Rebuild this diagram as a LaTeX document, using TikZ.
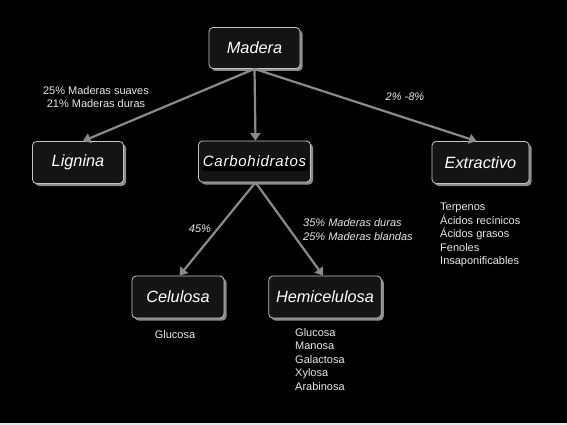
\documentclass[tikz,border=0pt]{standalone}
\usepackage{fontspec}
\setmainfont{Liberation Sans}
\usetikzlibrary{arrows.meta,shadows,calc}
\definecolor{boxfill}{HTML}{141414}
\definecolor{boxborder}{HTML}{C4C4C4}
\definecolor{shadowgray}{HTML}{8C8C8C}
\definecolor{arrowgray}{HTML}{8A8A8A}
\definecolor{labeltext}{HTML}{E8E8E8}
\tikzset{
  box/.style={draw=boxborder, fill=boxfill, rounded corners=4pt, line width=0.8pt,
    minimum height=41pt, inner sep=0pt, text=white,
    font=\fontsize{16.3}{19}\selectfont\itshape,
    drop shadow={shadow xshift=2.5pt, shadow yshift=-2.5pt, fill=shadowgray, opacity=1, rounded corners=4pt}},
  arr/.style={draw=arrowgray, line width=2.2pt, -{Triangle[length=7.5pt,width=10pt]}},
  lbl/.style={text=labeltext, inner sep=0pt, font=\fontsize{11}{13.5}\selectfont},
  ilbl/.style={lbl, font=\fontsize{11}{13.5}\selectfont\itshape}
}
\begin{document}
\begin{tikzpicture}[x=1pt,y=-1pt]
\fill[black] (0,0) rectangle (567,425);
\useasboundingbox (0,0) rectangle (567,425);
\fill[labeltext] (0,423.2) rectangle (567,425);

\node[box, minimum width=91pt] (mad) at (254.5,48) {Madera};
\node[box, minimum width=91pt, minimum height=42pt] (lig) at (78,162.5) {Lignina};
\node[box, minimum width=112pt, minimum height=41pt,
  font=\fontsize{15}{18}\selectfont\itshape\addfontfeatures{LetterSpace=5},
  path picture={\fill[black] ([xshift=2.5pt,yshift=4pt]path picture bounding box.west) rectangle ([xshift=-2pt,yshift=-9.4pt]path picture bounding box.east);}]
  (carb) at (254.5,161.5) {\raisebox{-2pt}{Carbohidratos}};
\node[box, minimum width=97pt, minimum height=42pt] (ext) at (480.5,162.5) {Extractivo};
\node[box, minimum width=92pt, minimum height=42pt] (cel) at (178,297) {Celulosa};
\node[box, minimum width=112.5pt, minimum height=42pt] (hem) at (325,297) {Hemicelulosa};

\draw[arr] (mad.south) -- ([xshift=5pt]lig.north);
\draw[arr] (mad.south) -- ([xshift=1pt]carb.north);
\draw[arr] (mad.south) -- ([xshift=-4pt]ext.north);
\draw[arr] ([xshift=1pt]carb.south) -- ([xshift=1.5pt]cel.north);
\draw[arr] ([xshift=1pt]carb.south) -- ([xshift=-2pt]hem.north);

\node[lbl, align=center] (l1) at (96,97) {25\% Maderas suaves\\21\% Maderas duras};
\node[ilbl] (l2) at (405,97) {2\% -8\%};
\node[ilbl] (l3) at (200,229) {45\%};
\node[ilbl, align=left, anchor=west] (l4) at (303,229.5) {35\% Maderas duras\\25\% Maderas blandas};
\node[lbl, align=left, anchor=west] (l5) at (440,235) {Terpenos\\Ácidos recínicos\\Ácidos grasos\\Fenoles\\Insaponificables};
\node[lbl] (l6) at (175,335) {Glucosa};
\node[lbl, align=left, anchor=west] (l7) at (295,359.5) {Glucosa\\Manosa\\Galactosa\\Xylosa\\Arabinosa};
\end{tikzpicture}
\end{document}
